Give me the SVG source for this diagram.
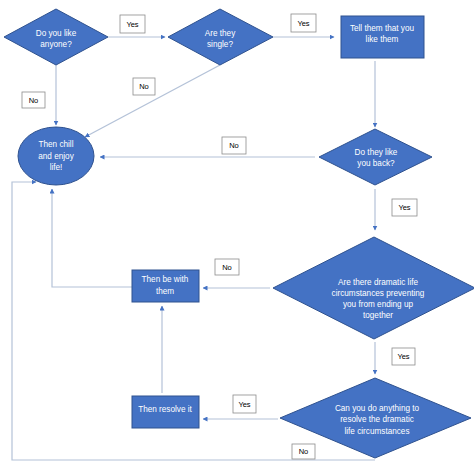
<svg xmlns="http://www.w3.org/2000/svg" width="474" height="475" viewBox="0 0 474 475">
<defs>
<marker id="ah" viewBox="0 0 10 10" refX="9" refY="5" markerWidth="5" markerHeight="5" orient="auto" markerUnits="userSpaceOnUse">
<path d="M0,0 L10,5 L0,10 z" fill="#4472C4"/>
</marker>
<style>
.shape{fill:#4472C4;stroke:#2F528F;stroke-width:1}
.t{fill:#ffffff;font-family:"Liberation Sans",Arial,sans-serif;font-size:8.2px;text-anchor:middle}
.lb{fill:#ffffff;stroke:#8c8c8c;stroke-width:0.8}
.lt{fill:#000000;font-family:"Liberation Sans",Arial,sans-serif;font-size:7.5px;text-anchor:middle}
.c{fill:none;stroke:#B4C2D8;stroke-width:1.2;marker-end:url(#ah)}
</style>
</defs>
<rect width="474" height="475" fill="#ffffff"/>
<g id="connectors">
<line class="c" x1="108" y1="37" x2="165" y2="37"/>
<line class="c" x1="273" y1="37" x2="334" y2="37"/>
<line class="c" x1="56" y1="65" x2="56" y2="125"/>
<line class="c" x1="220" y1="65" x2="85" y2="137"/>
<line class="c" x1="375" y1="61" x2="375" y2="127"/>
<line class="c" x1="315" y1="157" x2="100" y2="157"/>
<line class="c" x1="375" y1="189" x2="375" y2="230"/>
<line class="c" x1="270" y1="288" x2="203" y2="288"/>
<polyline class="c" points="132,287 52,287 52,189"/>
<line class="c" x1="162" y1="393" x2="162" y2="306"/>
<line class="c" x1="375" y1="342" x2="375" y2="374"/>
<line class="c" x1="278" y1="419" x2="203" y2="419"/>
<polyline class="c" points="375,460 12,460 12,182 36,182"/>
</g>
<g id="labels">
<rect class="lb" x="120" y="15" width="25" height="18"/><text class="lt" x="132.5" y="27">Yes</text>
<rect class="lb" x="291" y="14" width="25" height="18"/><text class="lt" x="303.5" y="26">Yes</text>
<rect class="lb" x="22" y="92" width="23" height="16"/><text class="lt" x="33.5" y="103">No</text>
<rect class="lb" x="133" y="78" width="22" height="17"/><text class="lt" x="144" y="89">No</text>
<rect class="lb" x="222" y="137" width="24" height="17"/><text class="lt" x="234" y="148">No</text>
<rect class="lb" x="392" y="199" width="25" height="17"/><text class="lt" x="404.5" y="210">Yes</text>
<rect class="lb" x="215" y="259" width="24" height="16"/><text class="lt" x="227" y="270">No</text>
<rect class="lb" x="392" y="348" width="23" height="17"/><text class="lt" x="403.5" y="359">Yes</text>
<rect class="lb" x="233" y="395" width="23" height="18"/><text class="lt" x="244.5" y="407">Yes</text>
<rect class="lb" x="292" y="444" width="23" height="15"/><text class="lt" x="303.5" y="454">No</text>
</g>
<g id="n1"><polygon class="shape" points="56,9 108,37 56,65 4,37"/>
<text class="t" x="56" y="36">Do you like</text><text class="t" x="56" y="47">anyone?</text></g>
<g id="n2"><polygon class="shape" points="220,9 273,37 220,65 168,37"/>
<text class="t" x="220" y="36">Are they</text><text class="t" x="220" y="47">single?</text></g>
<g id="n3"><rect class="shape" x="341" y="16" width="83" height="42"/>
<text class="t" x="382" y="31">Tell them that you</text><text class="t" x="382" y="42">like them</text></g>
<g id="n4"><ellipse class="shape" cx="56" cy="156" rx="38" ry="29"/>
<text class="t" x="56" y="147">Then chill</text><text class="t" x="56" y="159">and enjoy</text><text class="t" x="56" y="170">life!</text></g>
<g id="n5"><polygon class="shape" points="375,129 432,157 375,185 319,157"/>
<text class="t" x="376" y="155">Do they like</text><text class="t" x="376" y="166">you back?</text></g>
<g id="n6"><polygon class="shape" points="374,237 475,288 374,339 273,288"/>
<text class="t" x="378" y="285">Are there dramatic life</text><text class="t" x="378" y="296">circumstances preventing</text><text class="t" x="378" y="307">you from ending up</text><text class="t" x="378" y="318">together</text></g>
<g id="n7"><rect class="shape" x="132" y="270" width="67" height="32"/>
<text class="t" x="165" y="282">Then be with</text><text class="t" x="165" y="294">them</text></g>
<g id="n8"><rect class="shape" x="132" y="396" width="67" height="32"/>
<text class="t" x="165" y="412">Then resolve it</text></g>
<g id="n9"><polygon class="shape" points="375,378 471,418 375,458 280,418"/>
<text class="t" x="377" y="411">Can you do anything to</text><text class="t" x="377" y="422">resolve the dramatic</text><text class="t" x="377" y="434">life circumstances</text></g>
</svg>
